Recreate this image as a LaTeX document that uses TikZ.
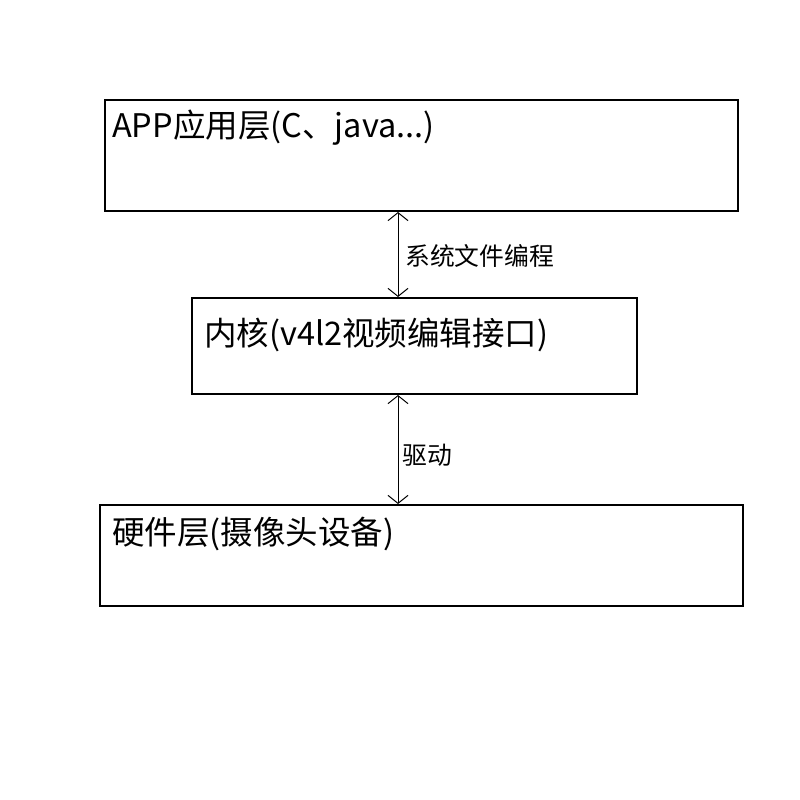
\documentclass[tikz,border=0pt]{standalone}
\usepackage{fontspec}
\setmainfont{Noto Sans CJK SC}
\usetikzlibrary{positioning,arrows.meta}

\tikzset{
  layer/.style={draw, line width=2pt, anchor=north west, inner sep=0pt},
  title/.style={anchor=west, inner sep=0pt, font=\fontsize{32.5}{38}\selectfont},
  note/.style={anchor=west, inner sep=0pt, font=\fontsize{24.8}{30}\selectfont},
  biarrow/.style={line width=1pt, {Straight Barb[length=8pt,width=20pt]}-{Straight Barb[length=8pt,width=20pt]}}
}

\begin{document}
\begin{tikzpicture}[x=1pt,y=-1pt]
        \useasboundingbox (0,0) rectangle (800,800);
        % layers
        \node[layer, minimum width=633pt, minimum height=111pt] (app) at (104,99) {};
        \node[layer, minimum width=445pt, minimum height=96pt] (kernel) at (191,297) {};
        \node[layer, minimum width=643pt, minimum height=101pt] (hw) at (99,504) {};
        % titles
        \node[title] (app_t) at (112,128) {APP应用层(C、java...)};
        \node[title] (kernel_t) at (204,335) {内核(v4l2视频编辑接口)};
        \node[title] (hw_t) at (112,534) {硬件层(摄像头设备)};
        % arrows
        \coordinate (ax) at (398,0);
        \draw[biarrow] (app.south -| ax) -- (kernel.north -| ax);
        \draw[biarrow] (kernel.south -| ax) -- (hw.north -| ax);
        \node[note] (sys) at (405,256) {系统文件编程};
        \node[note] (drv) at (402,455) {驱动};
\end{tikzpicture}
\end{document}
